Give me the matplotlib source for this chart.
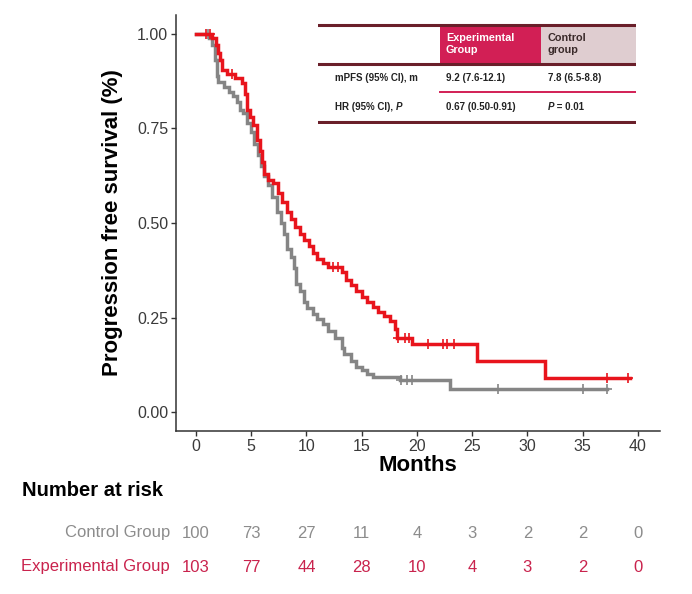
import numpy as np
import matplotlib
matplotlib.use("Agg")
import matplotlib.pyplot as plt
import matplotlib.transforms as mtransforms

plt.rcParams['font.family'] = ['Liberation Sans', 'DejaVu Sans']

# Kaplan-Meier steps (time in months, survival after step)
exp_times = [0, 1.5, 1.8, 2.0, 2.2, 2.4, 2.8, 3.5, 4.2, 4.4, 4.6, 4.9, 5.2, 5.5, 5.8,
             6.0, 6.2, 6.5, 7.0, 7.4, 7.8, 8.2, 8.6, 9.0, 9.4, 9.8, 10.2, 10.6, 11.0,
             11.5, 12.0, 13.2, 13.6, 14.0, 14.5, 15.0, 15.5, 16.0, 16.5, 17.0, 17.6,
             18.0, 18.2, 19.6, 25.4, 31.6]
exp_surv = [1.0, 0.99, 0.97, 0.95, 0.93, 0.905, 0.893, 0.883, 0.87, 0.84, 0.80, 0.78,
            0.76, 0.72, 0.69, 0.66, 0.63, 0.615, 0.605, 0.58, 0.555, 0.53, 0.51, 0.49,
            0.472, 0.455, 0.44, 0.42, 0.405, 0.395, 0.383, 0.37, 0.35, 0.335, 0.32,
            0.305, 0.29, 0.277, 0.265, 0.255, 0.24, 0.22, 0.195, 0.18, 0.134, 0.089]
exp_end = 39.3
exp_censor = [0.9, 1.3, 3.3, 12.4, 12.9, 18.3, 18.9, 19.3, 21.0, 22.4, 22.7, 23.4, 37.2, 39.1]

ctl_times = [0, 1.2, 1.5, 1.7, 1.9, 2.0, 2.5, 3.0, 3.4, 3.7, 4.0, 4.3, 4.6, 5.0, 5.3,
             5.6, 5.9, 6.2, 6.5, 6.9, 7.3, 7.7, 8.0, 8.2, 8.6, 8.9, 9.1, 9.4, 9.8, 10.1,
             10.6, 11.0, 11.5, 12.0, 12.6, 13.2, 13.4, 14.0, 14.5, 15.0, 15.5, 16.0,
             18.5, 23.0]
ctl_surv = [1.0, 0.99, 0.97, 0.93, 0.89, 0.873, 0.86, 0.846, 0.835, 0.82, 0.80, 0.79,
            0.765, 0.74, 0.71, 0.68, 0.65, 0.625, 0.60, 0.57, 0.53, 0.50, 0.47, 0.43,
            0.41, 0.38, 0.34, 0.32, 0.29, 0.276, 0.26, 0.245, 0.233, 0.215, 0.197, 0.17,
            0.154, 0.135, 0.12, 0.112, 0.10, 0.093, 0.085, 0.062]
ctl_end = 37.2
ctl_censor = [1.1, 18.6, 19.1, 19.6, 27.3, 35.0, 37.2]

risk_times = [0, 5, 10, 15, 20, 25, 30, 35, 40]
risk_ctl = [100, 73, 27, 11, 4, 3, 2, 2, 0]
risk_exp = [103, 77, 44, 28, 10, 4, 3, 2, 0]

RED = "#e8141c"
GREY = "#858585"
CRIMSON = "#d21f55"
PINK = "#dfcdd0"
MAROON = "#6a1f2a"
TXT = "#3a3a3a"


def surv_at(times, surv, t):
    idx = np.searchsorted(times, t, side="right") - 1
    return np.asarray(surv)[idx]


def km_line(ax, times, surv, end, censor, color):
    x = list(times) + [end]
    y = list(surv) + [surv[-1]]
    ax.plot(x, y, drawstyle="steps-post", color=color, lw=2.5, solid_joinstyle="miter")
    ax.plot(censor, surv_at(times, surv, censor), ls="none", marker="+",
            ms=7, mew=1.2, color=color)


fig = plt.figure(figsize=(6.92, 5.94), dpi=100)
ax = fig.add_axes([176 / 692, 163 / 594, 484 / 692, 416 / 594])

km_line(ax, ctl_times, ctl_surv, ctl_end, ctl_censor, GREY)
km_line(ax, exp_times, exp_surv, exp_end, exp_censor, RED)

ax.set_xlim(-1.8, 42)
ax.set_ylim(-0.05, 1.05)
ax.set_xticks(risk_times)
ax.set_yticks([0, 0.25, 0.5, 0.75, 1.0])
ax.set_yticklabels(["0.00", "0.25", "0.50", "0.75", "1.00"])
for s in ["top", "right"]:
    ax.spines[s].set_visible(False)
for s in ["left", "bottom"]:
    ax.spines[s].set_color("#333333")
    ax.spines[s].set_linewidth(1.1)
ax.tick_params(colors="#333333", labelcolor=TXT, labelsize=11.5, length=3.5, width=1, pad=2)
ax.set_xlabel("Months", fontsize=16, fontweight="bold", labelpad=1)
ax.set_ylabel("Progression free survival (%)", fontsize=16, fontweight="bold", labelpad=10)

# summary table in the upper right, drawn in local pixel units
tab = fig.add_axes([318 / 692, (594 - 124) / 594, 318 / 692, 102 / 594])
tab.set_xlim(0, 318)
tab.set_ylim(102, 0)
tab.axis("off")
tab.add_patch(plt.Rectangle((122, 3), 101, 39, color=CRIMSON, lw=0))
tab.add_patch(plt.Rectangle((223, 3), 95, 39, color=PINK, lw=0))
tab.plot([0, 318], [3, 3], color=MAROON, lw=2.2)
tab.plot([0, 318], [42, 42], color=MAROON, lw=2.2)
tab.plot([122, 318], [70, 70], color=CRIMSON, lw=1.4)
tab.plot([0, 318], [100, 100], color=MAROON, lw=2.2)

fs = 7
tab.text(128, 22, "Experimental\nGroup", color="white", fontsize=7.8, fontweight="bold",
         va="center", linespacing=1.3)
tab.text(230, 22, "Control\ngroup", color="#3a2a2a", fontsize=7.8, fontweight="bold",
         va="center", linespacing=1.3)
tab.text(17, 56, "mPFS (95% CI), m", fontsize=fs, fontweight="bold", va="center", color="#222222")
tab.text(128, 56, "9.2 (7.6-12.1)", fontsize=fs, fontweight="bold", va="center", color="#222222")
tab.text(230, 56, "7.8 (6.5-8.8)", fontsize=fs, fontweight="bold", va="center", color="#222222")
t1 = tab.text(17, 85, "HR (95% CI), ", fontsize=fs, fontweight="bold", va="center", color="#222222")
tab.annotate("P", xy=(1, 0.5), xycoords=t1, va="center", ha="left", fontsize=fs,
             fontweight="bold", style="italic", color="#222222")
tab.text(128, 85, "0.67 (0.50-0.91)", fontsize=fs, fontweight="bold", va="center", color="#222222")
t2 = tab.text(230, 85, "P", fontsize=fs, fontweight="bold", style="italic", va="center",
              color="#222222")
tab.annotate(" = 0.01", xy=(1, 0.5), xycoords=t2, va="center", ha="left", fontsize=fs,
             fontweight="bold", color="#222222")

# number at risk table
fig.text(22 / 692, 1 - 490 / 594, "Number at risk", fontsize=14.5, fontweight="bold",
         va="center", ha="left")
trans = mtransforms.blended_transform_factory(ax.transData, fig.transFigure)
row_y = [1 - 533 / 594, 1 - 567 / 594]
fig.text(170 / 692, row_y[0], "Control Group", color="#8c8c8c", fontsize=12,
         ha="right", va="center")
fig.text(170 / 692, row_y[1], "Experimental Group", color="#c9234d", fontsize=12,
         ha="right", va="center")
for t, a, b in zip(risk_times, risk_ctl, risk_exp):
    ax.text(t, row_y[0], str(a), transform=trans, color="#8c8c8c", fontsize=12,
            ha="center", va="center", clip_on=False)
    ax.text(t, row_y[1], str(b), transform=trans, color="#c9234d", fontsize=12,
            ha="center", va="center", clip_on=False)

fig.savefig("out.png", dpi=100)
